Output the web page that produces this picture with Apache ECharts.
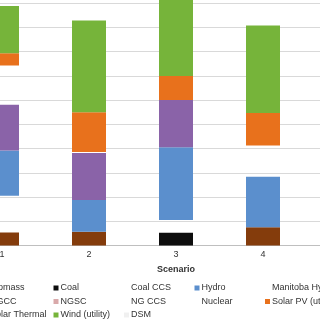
<!DOCTYPE html>
<html>
<head>
<meta charset="utf-8">
<script src="https://cdn.jsdelivr.net/npm/echarts@6/dist/echarts.min.js"></script>
<style>
html, body { margin: 0; padding: 0; background: #fff; overflow: hidden; width: 320px; height: 320px; }
#chart { position: absolute; left: -100px; top: -50px; width: 520px; height: 370px; }
</style>
</head>
<body>
<div id="chart"></div>
<script>
(function () {
    // scenario categories (5th one is cut off in the picture)
    const scenarios = ['1', '2', '3', '4', '5'];

    // stacked capacity per technology, bottom to top
    const biomass       = [0.54, 0.57, 0,    0.75, 0];
    const coal          = [0,    0,    0.53, 0,    0];
    const coalCcs       = [1.51, 0,    0.52, 0,    0];
    const hydro         = [1.87, 1.31, 3.00, 2.09, 0];
    const manitobaHydro = [0,    0,    0,    0,    0];
    const ngcc          = [1.88, 1.93, 1.95, 0,    0];
    const ngsc          = [0,    0,    0,    0,    0];
    const ngCcs         = [0,    0,    0,    0,    0];
    const nuclear       = [1.62, 0.05, 0,    1.28, 0];
    const solarPv       = [0.51, 1.64, 0.99, 1.34, 0];
    const solarThermal  = [0,    0,    0,    0,    0];
    const wind          = [1.95, 3.78, 3.55, 3.61, 0];
    const dsm           = [0,    0,    0,    0,    0];

    // legend rows as laid out under the chart
    const legendRows = [
        ['Biomass', 'Coal', 'Coal CCS', 'Hydro', 'Manitoba Hydro'],
        ['NGCC', 'NGSC', 'NG CCS', 'Nuclear', 'Solar PV (utility)'],
        ['Solar Thermal', 'Wind (utility)', 'DSM']
    ];

    const none = 'rgba(0,0,0,0)';
    const techs = [
        ['Biomass', biomass, '#843c0c'],
        ['Coal', coal, '#0d0d0d'],
        ['Coal CCS', coalCcs, none],
        ['Hydro', hydro, '#5b8fcd'],
        ['Manitoba Hydro', manitobaHydro, none],
        ['NGCC', ngcc, '#8a63a8'],
        ['NGSC', ngsc, '#d9a9aa'],
        ['NG CCS', ngCcs, none],
        ['Nuclear', nuclear, none],
        ['Solar PV (utility)', solarPv, '#e8711c'],
        ['Solar Thermal', solarThermal, '#ffc000'],
        ['Wind (utility)', wind, '#76b43a'],
        ['DSM', dsm, '#f0f0f0']
    ];

    const font = 'Liberation Sans, Arial, sans-serif';
    const shiftX = 100; // chart div starts 100px left of the window
    const shiftY = 50;  // and 50px above it

    // one legend per entry so the columns line up
    const legends = [];
    legendRows.forEach(function (row, r) {
        row.forEach(function (name, c) {
            legends.push({
                data: [name],
                left: shiftX - 17 + c * 70.5,
                top: shiftY + 283 + r * 13.5,
                padding: 0,
                itemWidth: 5,
                itemHeight: 5,
                icon: 'rect',
                selectedMode: false,
                textStyle: { fontFamily: font, fontSize: 9, color: '#333', lineHeight: 10, padding: [0, 0, 0, -3] }
            });
        });
    });

    const option = {
        animation: false,
        backgroundColor: '#fff',
        grid: { left: shiftX - 41.5, width: 435, top: shiftY - 21.25, bottom: 74.5 },
        legend: legends,
        xAxis: {
            type: 'category',
            data: scenarios,
            name: 'Scenario',
            nameLocation: 'middle',
            nameGap: 20,
            nameTextStyle: { fontFamily: font, fontSize: 9, fontWeight: 'bold', color: '#333' },
            axisLine: { lineStyle: { color: '#bfbfbf' } },
            axisTick: { length: 3, lineStyle: { color: '#bfbfbf' } },
            axisLabel: { fontFamily: font, fontSize: 9, color: '#333', margin: 5 }
        },
        yAxis: {
            type: 'value',
            min: 0,
            max: 11,
            interval: 1,
            axisLabel: { show: false },
            axisLine: { show: false },
            axisTick: { show: false },
            splitLine: { lineStyle: { color: '#d9d9d9' } }
        },
        series: techs.map(function (t) {
            return {
                name: t[0],
                type: 'bar',
                stack: 'total',
                barWidth: 34,
                data: t[1],
                itemStyle: { color: t[2] }
            };
        })
    };

    const myChart = echarts.init(document.getElementById('chart'));
    myChart && myChart.setOption(option);
}());
</script>
</body>
</html>
